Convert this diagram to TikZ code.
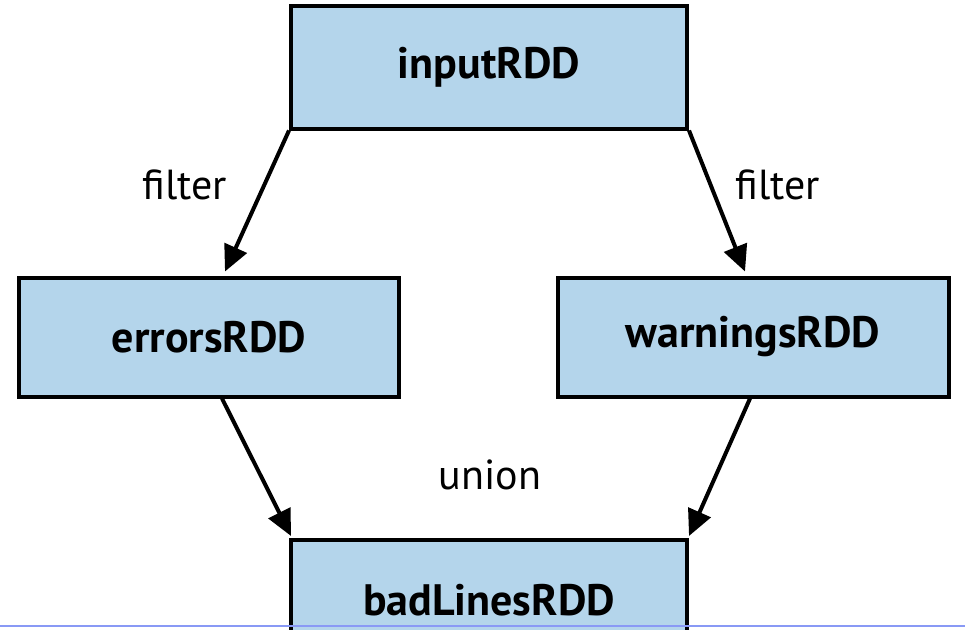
\documentclass[tikz,border=0pt]{standalone}
\usepackage{fontspec}
\setmainfont{PT Sans}
\usetikzlibrary{arrows.meta}
\definecolor{rddblue}{RGB}{180,213,235}
\tikzset{
  rdd/.style={draw=black, line width=4pt, fill=rddblue, inner sep=0pt,
    font=\fontsize{44}{48}\selectfont\bfseries},
  flow/.style={line width=4pt, -{Triangle[length=26pt,width=24pt]}},
  op/.style={font=\fontsize{42}{46}\selectfont}
}
\begin{document}
\begin{tikzpicture}[x=1pt,y=-1pt]
  \useasboundingbox (0,0) rectangle (965,629);
  \clip (0,0) rectangle (965,629);

  % Boxes
  \node[rdd, minimum width=396pt, minimum height=123pt] (inputRDD) at (489,67) {inputRDD};
  \node[rdd, minimum width=380pt, minimum height=119pt] (errorsRDD) at (209,337) {errorsRDD};
  \node[rdd, minimum width=391pt, minimum height=119pt] (warningsRDD) at (753,337) {warningsRDD};
  \node[rdd, minimum width=396pt, minimum height=140pt] (badLinesRDD) at (489,610) {};
  \node[font=\fontsize{44}{48}\selectfont\bfseries] (badLinesText) at (489,600) {badLinesRDD};

  % Arrows
  \draw[flow] (inputRDD.south west) -- ([xshift=16pt,yshift=4pt]errorsRDD.north);
  \draw[flow] (inputRDD.south east) -- ([xshift=-8pt,yshift=4pt]warningsRDD.north);
  \draw[flow] ([xshift=13pt]errorsRDD.south) -- ([xshift=-198pt,yshift=2pt]badLinesRDD.north);
  \draw[flow] ([xshift=-3pt]warningsRDD.south) -- ([xshift=200pt,yshift=2pt]badLinesRDD.north);

  % Labels
  \node[op] (filterL) at (185,185) {filter};
  \node[op] (filterR) at (778,185) {filter};
  \node[op] (union) at (490,475) {union};

  % bottom rule
  \draw[rddblue!60!blue!80, line width=1.5pt] (0,626) -- (965,626);
\end{tikzpicture}
\end{document}
